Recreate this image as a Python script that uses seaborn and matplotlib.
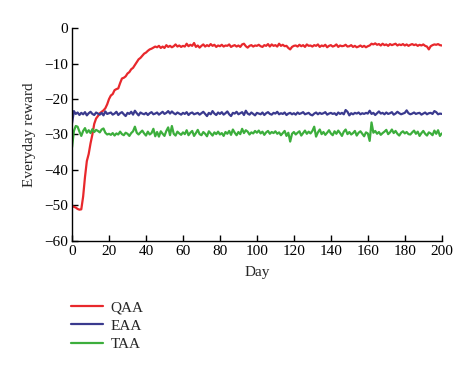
import numpy as np
import pandas as pd
import matplotlib
matplotlib.use("Agg")
import matplotlib.pyplot as plt
import seaborn as sns

days = list(range(201))

qaa = [
    -50.2, -50.4, -50.6, -51.0, -51.2, -51.1, -47.5, -42.0, -37.5, -35.5,
    -32.5, -30.0, -27.0, -25.5, -24.8, -24.0, -23.6, -23.2, -22.6, -21.5,
    -20.0, -19.0, -18.6, -17.5, -17.2, -17.0, -15.5, -14.2, -14.0, -13.6,
    -12.8, -12.4, -11.6, -11.2, -10.4, -9.6, -8.8, -8.4, -7.8, -7.2,
    -6.9, -6.4, -6.0, -5.8, -5.5, -5.2, -5.4, -5.0, -5.6, -5.2,
    -5.6, -4.8, -5.3, -5.0, -5.4, -5.1, -4.6, -5.2, -4.9, -5.3,
    -5.0, -5.2, -4.4, -5.1, -4.7, -5.0, -4.2, -5.3, -4.9, -5.5,
    -5.0, -4.6, -5.2, -4.8, -5.1, -4.5, -5.0, -4.7, -5.3, -4.9,
    -5.1, -4.7, -5.2, -4.9, -5.0, -4.6, -5.3, -5.0, -4.8, -5.2,
    -4.9, -5.3, -4.6, -4.4, -5.1, -5.5, -5.0, -4.8, -5.2, -4.9,
    -5.0, -4.7, -5.1, -5.3, -4.8, -5.0, -4.5, -5.2, -4.6, -5.0,
    -4.8, -5.2, -4.4, -5.0, -4.7, -5.1, -5.0, -5.6, -6.0, -5.3,
    -5.0, -4.9, -5.2, -4.7, -5.1, -4.8, -5.3, -4.6, -5.0, -4.9,
    -5.2, -4.8, -5.0, -4.6, -5.3, -4.9, -5.1, -4.7, -5.4, -5.0,
    -4.8, -5.2, -5.0, -4.6, -5.3, -4.9, -5.1, -5.0, -4.7, -5.2,
    -5.1, -4.8, -5.3, -5.0, -5.4, -5.2, -4.9, -5.3, -5.0, -5.4,
    -5.1, -4.9, -4.4, -4.6, -4.3, -4.7, -4.5, -4.9, -4.4, -4.8,
    -4.6, -5.0, -4.5, -4.8, -4.6, -4.4, -4.9, -4.6, -4.8, -4.5,
    -4.9, -4.6, -5.0, -4.7, -4.5, -4.8, -4.6, -5.0, -4.7, -4.9,
    -4.6, -5.0, -5.2, -6.0, -5.1, -4.8, -4.6, -4.7, -4.5, -4.8,
    -4.9,
]

eaa = [
    -26.8, -23.4, -24.2, -23.8, -24.5, -23.9, -24.3, -23.7, -24.6, -24.0,
    -23.6, -24.2, -24.5, -23.8, -24.1, -24.4, -23.9, -24.6, -23.5, -24.2,
    -24.0, -23.8, -24.4, -24.1, -23.6, -24.5, -24.0, -23.7, -24.3, -24.8,
    -23.9, -24.2, -23.6, -24.4, -23.3, -24.0, -24.6, -23.8, -24.1, -24.3,
    -23.9, -24.5, -24.0, -23.7, -24.3, -24.1, -23.8, -24.4, -24.0, -23.6,
    -24.2, -23.9, -23.4, -24.1, -23.5, -24.0, -24.3, -23.8, -24.1, -24.4,
    -23.9, -24.2, -23.7, -24.5, -24.0, -23.8, -24.3, -24.1, -23.9, -24.4,
    -24.0, -23.6, -24.2, -24.8, -23.9, -24.3, -23.4, -24.1, -24.5, -23.8,
    -24.2, -23.7, -24.4, -24.0, -23.5, -24.3, -24.8, -23.9, -24.1, -23.6,
    -24.3, -24.0, -23.7, -24.5, -23.3, -24.1, -24.4, -23.8, -24.2, -24.6,
    -23.9, -24.1, -24.3, -23.8, -24.5, -24.0, -23.7, -24.2, -24.4, -23.9,
    -24.1, -23.6, -24.3, -24.0, -24.2, -23.8, -24.5, -24.1, -23.9, -24.3,
    -24.0, -24.4, -23.8, -24.2, -24.0, -23.7, -24.3, -24.1, -23.9, -24.4,
    -24.6, -24.1, -23.8, -24.3, -23.9, -24.2, -24.0, -23.7, -24.4, -24.1,
    -23.9, -24.2, -24.0, -24.5, -23.8, -24.2, -23.9, -24.3, -23.1, -23.6,
    -24.6, -24.0, -24.3, -23.9, -24.1, -23.8, -24.3, -24.0, -24.2, -23.9,
    -24.1, -23.3, -24.2, -23.9, -24.5, -24.0, -23.5, -24.1, -23.9, -24.3,
    -23.8, -24.2, -24.0, -23.7, -24.4, -24.1, -23.6, -24.0, -24.3, -24.1,
    -23.9, -23.2, -24.0, -24.3, -24.1, -23.8, -24.2, -24.0, -23.9, -24.4,
    -24.1, -23.8, -24.3, -24.0, -23.9, -24.2, -23.4, -23.7, -24.3, -24.1,
    -24.2,
]

taa = [
    -33.6, -29.0, -27.6, -27.8, -29.2, -30.4, -29.0, -28.2, -29.5, -28.8,
    -29.6, -28.5, -29.3, -28.7, -29.0, -29.4, -28.6, -28.3, -29.5, -30.0,
    -29.8, -30.1, -29.6, -30.3, -29.7, -30.0, -29.2, -29.9, -30.2, -29.5,
    -29.8, -30.4, -29.6, -29.1, -27.8, -29.5, -30.0, -29.4, -28.9, -29.7,
    -30.3, -29.2, -30.0, -29.6, -28.4, -30.5, -29.3, -30.6, -29.1, -29.8,
    -30.4, -29.0, -28.0, -30.2, -27.6, -29.8, -30.3, -29.2, -29.7, -30.1,
    -29.4, -29.9, -28.8, -30.2, -29.5, -29.0, -30.4, -29.6, -28.7, -29.9,
    -30.2, -29.3, -29.8, -30.5, -29.1, -29.7, -30.3, -29.4, -29.9, -29.2,
    -30.0, -29.6, -30.4, -29.3, -29.8, -29.0, -30.1, -28.6, -29.5, -30.2,
    -29.3, -29.9, -28.4, -29.6, -28.8, -29.2, -30.0, -29.4, -29.7, -29.0,
    -29.5, -28.9, -29.7, -29.2, -30.1, -29.4, -29.0, -29.8, -29.3, -29.6,
    -29.1, -29.8, -29.4, -30.2, -29.6, -29.0, -30.4, -29.5, -32.0, -29.8,
    -29.3, -30.0, -29.5, -29.1, -30.3, -29.6, -28.9, -29.8, -29.2, -29.7,
    -29.0, -27.8, -30.6, -29.4, -28.6, -29.9, -29.3, -30.1, -29.5, -28.8,
    -29.7, -30.2, -29.1, -29.8, -28.9, -29.6, -30.4, -29.2, -28.6, -29.9,
    -29.3, -30.0, -29.6, -29.0, -30.3, -29.5, -29.1, -29.8, -30.5, -29.4,
    -29.7, -31.8, -26.6, -29.5, -29.0, -29.8, -29.3, -30.1, -29.6, -29.2,
    -28.7, -29.9, -29.4, -28.6, -29.6, -29.0, -29.8, -30.3, -29.5, -29.1,
    -29.7, -29.3, -29.9, -30.0, -29.4, -28.9, -29.8, -29.2, -30.4, -29.6,
    -29.0, -29.8, -30.3, -29.4, -29.7, -30.2, -28.9, -29.8, -28.8, -30.4,
    -29.7,
]

methods = ["QAA", "EAA", "TAA"]
colors = ["#e8282c", "#3a3a8e", "#3cae3c"]

df = pd.DataFrame({
    "Day": days * 3,
    "reward": qaa + eaa + taa,
    "Method": ["QAA"] * len(qaa) + ["EAA"] * len(eaa) + ["TAA"] * len(taa),
})

sns.set_style("ticks")
plt.rcParams["font.family"] = ["Liberation Serif", "DejaVu Serif"]

fig = plt.figure(figsize=(4.74, 3.70), dpi=100)
ax = fig.add_axes([0.152, 0.349, 0.780, 0.575])

sns.lineplot(data=df, x="Day", y="reward", hue="Method", hue_order=methods,
             palette=colors, linewidth=1.6, ax=ax)

ax.set_xlim(0, 200)
ax.set_ylim(-60, 0)
ax.set_xticks(range(0, 201, 20))
ax.set_yticks(range(-60, 1, 10))
ax.set_yticklabels(["\u221260", "\u221250", "\u221240", "\u221230", "\u221220", "\u221210", "0"])
ax.tick_params(direction="in", length=4, width=1, labelsize=11, colors="black", pad=3)
for s in ["left", "bottom"]:
    ax.spines[s].set_color("black")
    ax.spines[s].set_linewidth(1.0)
sns.despine(ax=ax)
ax.set_xlabel("Day", fontsize=11, labelpad=6)
ax.set_ylabel("Everyday reward", fontsize=11, labelpad=6)

ax.get_legend().remove()
handles, labels = ax.get_legend_handles_labels()
fig.legend(handles, labels, loc="upper left", bbox_to_anchor=(0.150, 0.187),
           frameon=False, fontsize=11, handlelength=2.1, handletextpad=0.5,
           labelspacing=0.3, borderpad=0, borderaxespad=0)

fig.savefig("out.png", dpi=100)
